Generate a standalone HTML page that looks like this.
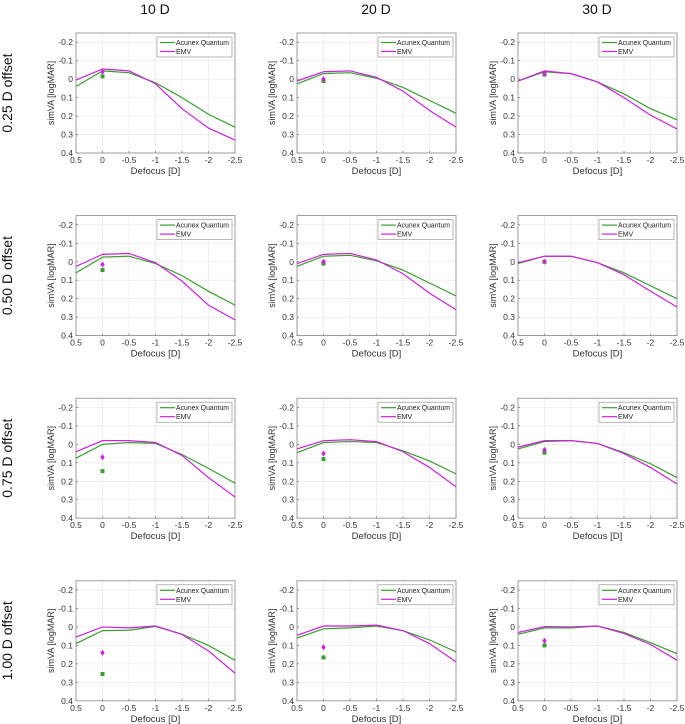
<!DOCTYPE html>
<html><head><meta charset="utf-8">
<style>
body{margin:0;background:#fff;}
svg{display:block;font-family:"Liberation Sans",Arial,sans-serif;}
</style></head>
<body>
<svg id="fig" width="685" height="724" viewBox="0 0 685 724" xmlns="http://www.w3.org/2000/svg"></svg>
<script>
const defocus=[0.5,0,-0.5,-1,-1.5,-2,-2.5];
const xTicks=["0.5","0","-0.5","-1","-1.5","-2","-2.5"];
const yTicks=[-0.2,-0.1,0,0.1,0.2,0.3,0.4];
const yTickLabels=["-0.2","-0.1","0","0.1","0.2","0.3","0.4"];
const colLabels=["10 D","20 D","30 D"];
const rowLabels=["0.25 D offset","0.50 D offset","0.75 D offset","1.00 D offset"];
// [row][col]
const quantum=[
 [[0.04,-0.045,-0.035,0.02,0.1,0.19,0.26],[0.025,-0.03,-0.035,-0.005,0.045,0.115,0.185],[0.01,-0.04,-0.03,0.015,0.08,0.16,0.22]],
 [[0.06,-0.025,-0.03,0.01,0.075,0.16,0.235],[0.025,-0.03,-0.035,-0.005,0.045,0.115,0.185],[0.01,-0.03,-0.03,0.005,0.06,0.13,0.2]],
 [[0.075,0.0,-0.01,-0.005,0.055,0.13,0.21],[0.045,-0.01,-0.015,-0.01,0.035,0.09,0.16],[0.025,-0.015,-0.02,-0.005,0.045,0.105,0.18]],
 [[0.09,0.02,0.018,-0.003,0.04,0.1,0.18],[0.06,0.01,0.005,-0.005,0.02,0.07,0.135],[0.04,0.005,0.005,-0.005,0.03,0.085,0.145]]
];
const emv=[
 [[0.005,-0.055,-0.045,0.025,0.16,0.265,0.33],[0.01,-0.04,-0.045,-0.01,0.065,0.17,0.26],[0.01,-0.045,-0.03,0.015,0.1,0.195,0.27]],
 [[0.025,-0.04,-0.045,0.005,0.105,0.235,0.315],[0.01,-0.04,-0.045,-0.01,0.065,0.17,0.26],[0.005,-0.03,-0.03,0.005,0.07,0.16,0.245]],
 [[0.04,-0.02,-0.02,-0.01,0.06,0.18,0.285],[0.025,-0.02,-0.025,-0.015,0.04,0.125,0.23],[0.015,-0.02,-0.02,-0.005,0.05,0.125,0.215]],
 [[0.055,0,0.005,-0.005,0.04,0.13,0.25],[0.045,-0.005,-0.005,-0.01,0.02,0.09,0.19],[0.03,-0.002,0.0,-0.005,0.035,0.095,0.18]]
];
const quantumMarker=[[-0.015,0.01,-0.025],[0.045,0.01,0.0],[0.145,0.08,0.045],[0.255,0.165,0.1]];
const emvMarker=[[-0.04,0.0,-0.03],[0.015,0.0,0.0],[0.07,0.05,0.03],[0.14,0.11,0.075]];

const NS="http://www.w3.org/2000/svg";
const svg=document.getElementById('fig');
function mk(tag,attrs,parent){const e=document.createElementNS(NS,tag);for(const k in attrs)e.setAttribute(k,attrs[k]);(parent||svg).appendChild(e);return e;}
const GREEN="#3a9e2f",MAG="#cc22dd";
const W=159,H=120;

colLabels.forEach((t,c)=>{
 const e=mk('text',{x:76+221*c+79,y:14,'text-anchor':'middle','font-size':'14',fill:'#111'});
 e.textContent=t;
 
 
});
rowLabels.forEach((t,r)=>{
 const cy=33+182.6*r+60;
 const e=mk('text',{x:0,y:0,transform:`translate(12,${cy}) rotate(-90)`,'text-anchor':'middle','font-size':'14',fill:'#111'});
 e.textContent=t;
 
 
});

for(let r=0;r<4;r++)for(let c=0;c<3;c++){
 const L=76+221*c, T=33+182.6*r;
 const g=mk('g',{});
 
 
 const xs=v=>L+(0.5-v)/3*W;
 const ys=v=>T+(v+0.25)/0.65*H;
 mk('rect',{x:L,y:T,width:W,height:H,fill:'#fff',stroke:'none'},g);
 defocus.forEach((d,i)=>{mk('line',{x1:xs(d),x2:xs(d),y1:T,y2:T+H,stroke:'#e6e6e6','stroke-width':0.6},g);
  const t=mk('text',{x:xs(d),y:T+H+10,'text-anchor':'middle','font-size':'8.5',fill:'#333'},g);t.textContent=xTicks[i];
  mk('line',{x1:xs(d),x2:xs(d),y1:T+H,y2:T+H-2,stroke:'#555','stroke-width':0.6},g);});
 yTicks.forEach((v,i)=>{mk('line',{x1:L,x2:L+W,y1:ys(v),y2:ys(v),stroke:'#e6e6e6','stroke-width':0.6},g);
  const t=mk('text',{x:L-3,y:ys(v)+3,'text-anchor':'end','font-size':'8.5',fill:'#333'},g);t.textContent=yTickLabels[i];
  mk('line',{x1:L,x2:L+2,y1:ys(v),y2:ys(v),stroke:'#555','stroke-width':0.6},g);});
 mk('rect',{x:L,y:T,width:W,height:H,fill:'none',stroke:'#888','stroke-width':0.8},g);
 const xl=mk('text',{x:L+W/2,y:T+H+21,'text-anchor':'middle','font-size':'9.5',fill:'#333'},g);xl.textContent='Defocus [D]';
 
 
 const yl=mk('text',{x:0,y:0,transform:`translate(${L-22},${T+H/2}) rotate(-90)`,'text-anchor':'middle','font-size':'9',fill:'#333'},g);yl.textContent='simVA [logMAR]';
 
 
 const pq=mk('polyline',{points:defocus.map((d,i)=>xs(d)+','+ys(quantum[r][c][i])).join(' '),fill:'none',stroke:GREEN,'stroke-width':1.2},g);
 
 
 const pe=mk('polyline',{points:defocus.map((d,i)=>xs(d)+','+ys(emv[r][c][i])).join(' '),fill:'none',stroke:MAG,'stroke-width':1.2},g);
 
 
 const mx=xs(0), qy=ys(quantumMarker[r][c]), ey=ys(emvMarker[r][c]);
 const sq=mk('rect',{x:mx-2,y:qy-2,width:4,height:4,fill:GREEN},g);
 
 
 const dm=mk('polygon',{points:`${mx},${ey-3} ${mx+2.2},${ey} ${mx},${ey+3} ${mx-2.2},${ey}`,fill:MAG},g);
 
 
 const lg=mk('g',{},g);
 
 
 mk('rect',{x:L+81,y:T+4,width:75,height:20,fill:'#fff',stroke:'#888','stroke-width':0.6},lg);
 mk('line',{x1:L+84,x2:L+99,y1:T+9.5,y2:T+9.5,stroke:GREEN,'stroke-width':1.2},lg);
 mk('line',{x1:L+84,x2:L+99,y1:T+18.5,y2:T+18.5,stroke:MAG,'stroke-width':1.2},lg);
 const t1=mk('text',{x:L+100,y:T+12,'font-size':'7',fill:'#222',textLength:'53',lengthAdjust:'spacingAndGlyphs'},lg);t1.textContent='Acunex Quantum';
 const t2=mk('text',{x:L+100,y:T+21,'font-size':'7',fill:'#222'},lg);t2.textContent='EMV';
}
</script>
</body></html>
